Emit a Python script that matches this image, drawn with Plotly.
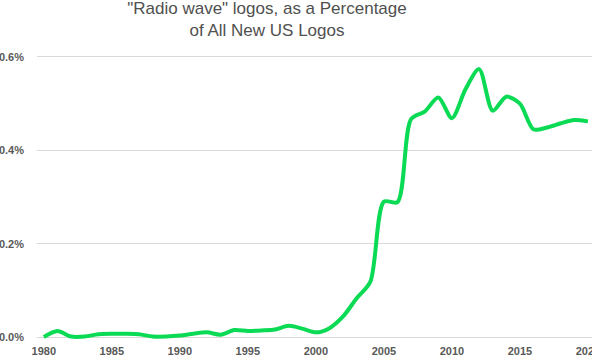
import plotly.graph_objects as go

years = list(range(1980, 2021))
share_pct = [
    0.000, 0.013, 0.001, 0.001, 0.006, 0.007, 0.007, 0.006, 0.001, 0.001,
    0.003, 0.007, 0.010, 0.005, 0.015, 0.013, 0.014, 0.016, 0.024, 0.018,
    0.010, 0.019, 0.044, 0.083, 0.118, 0.290, 0.289, 0.467, 0.483, 0.513,
    0.469, 0.531, 0.574, 0.485, 0.515, 0.500, 0.445, 0.449, 0.458, 0.465,
    0.462,
]
x_ticks = [1980, 1985, 1990, 1995, 2000, 2005, 2010, 2015, 2020]
y_ticks = [0.0, 0.2, 0.4, 0.6]
y_tick_labels = ["0.0%", "0.2%", "0.4%", "0.6%"]
title_text = '"Radio wave" logos, as a Percentage<br>of All New US Logos'

GRAY = "#595959"
FONT = "Liberation Sans, Arial, sans-serif"

fig = go.Figure()
fig.add_trace(go.Scatter(
    x=years, y=share_pct, mode="lines",
    line=dict(color="#0BDA55", width=4, shape="spline", smoothing=0.8),
    hoverinfo="x+y",
))

fig.update_layout(
    width=592, height=362,
    margin=dict(l=37, r=0, t=45, b=20),
    paper_bgcolor="white", plot_bgcolor="white",
    showlegend=False,
    font=dict(family=FONT, color=GRAY),
    title=dict(
        text=title_text, x=0.451, xref="container", xanchor="center",
        y=0.966, yref="container", yanchor="top", pad=dict(t=2),
        font=dict(family=FONT, size=17, color="#505050"),
    ),
    xaxis=dict(
        range=[1979.5, 2020.3], tickvals=x_ticks, ticktext=[str(v) for v in x_ticks],
        showgrid=False, zeroline=False, showline=False, ticks="",
        ticklabelstandoff=1, automargin=False, ticklabeloverflow="allow",
        tickfont=dict(family=FONT, size=11, color=GRAY, weight="bold"),
    ),
    yaxis=dict(
        range=[-0.0107, 0.6257], tickvals=y_ticks, ticktext=y_tick_labels,
        showgrid=True, gridcolor="#D9D9D9", gridwidth=1,
        zeroline=True, zerolinecolor="#D9D9D9", zerolinewidth=1,
        showline=False, ticks="", ticklabelstandoff=12, automargin=False,
        ticklabeloverflow="allow",
        tickfont=dict(family=FONT, size=11, color=GRAY, weight="bold"),
    ),
)

fig.write_html(
    "out.html",
    config={"displayModeBar": False},
    post_script="document.body.style.margin='0px';",
)
